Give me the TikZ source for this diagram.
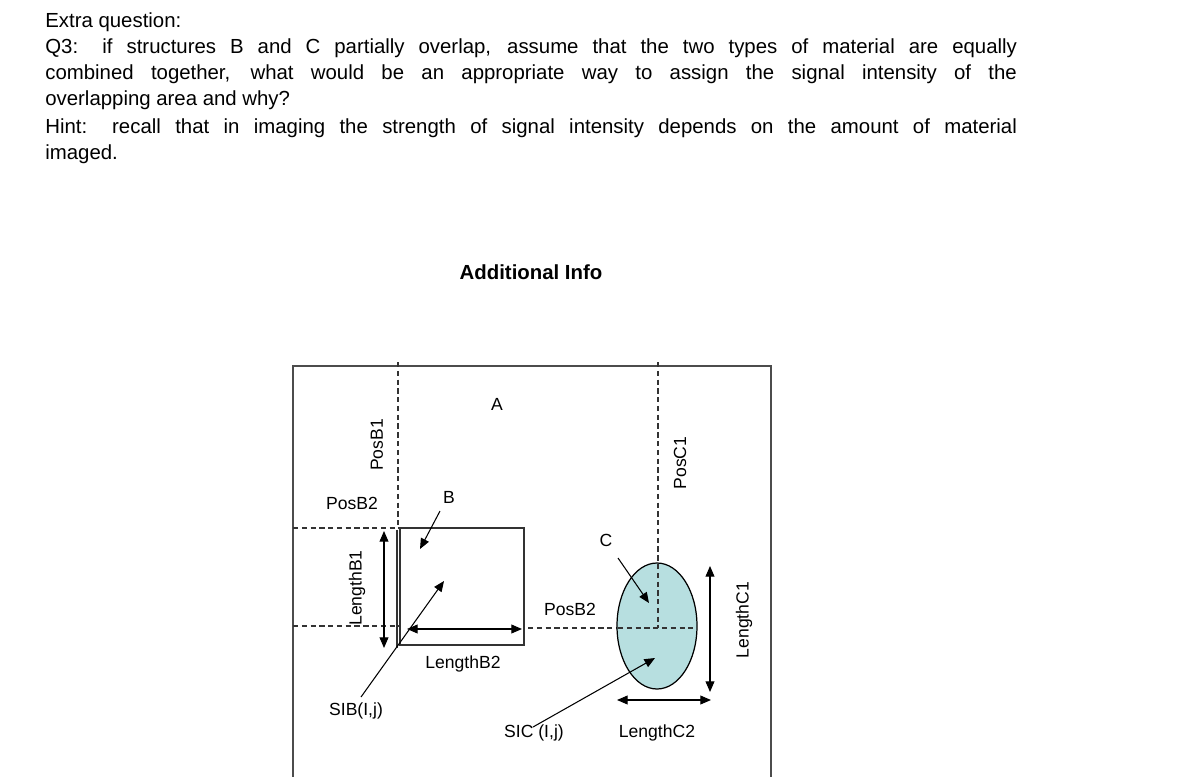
\documentclass[tikz,border=0pt]{standalone}
\usepackage{fontspec}
\setmainfont{Liberation Sans}
\usetikzlibrary{arrows.meta,shapes.geometric}
\definecolor{teal1}{HTML}{B7DFE0}
\begin{document}
\begin{tikzpicture}[x=0.02cm,y=-0.02cm,
  lbl/.style={font=\fontsize{10}{12}\selectfont,inner sep=0pt},
  dsh/.style={dashed,dash pattern=on 3pt off 2pt,line width=0.6pt,black!80},
  dim/.style={{Triangle[length=6pt,width=5pt]}-{Triangle[length=6pt,width=5pt]},line width=0.6pt},
  ptr/.style={-{Triangle[length=6pt,width=5pt]},line width=0.6pt},
  tl/.style={anchor=west,inner sep=0pt,font=\fontsize{11.6}{14}\selectfont}]
\useasboundingbox (0,0) rectangle (1180,777);
% text
\node[tl] (t1) at (45,22) {Extra question:};
\node[tl] (t2) at (45,48) {\makebox[553pt][s]{Q3: if structures B and C partially overlap, assume that the two types of material are equally}};
\node[tl] (t3) at (45,74) {\makebox[553pt][s]{combined together, what would be an appropriate way to assign the signal intensity of the}};
\node[tl] (t4) at (45,100) {overlapping area and why?};
\node[tl] (t5) at (45,128) {\makebox[553pt][s]{Hint: recall that in imaging the strength of signal intensity depends on the amount of material}};
\node[tl] (t6) at (45,154) {imaged.};
\node[font=\fontsize{11.6}{14}\selectfont\bfseries] (title) at (531,272) {Additional Info};
% frame
\draw[line width=0.8pt,black!70] (293,790) -- (293,366) -- (771,366) -- (771,790);
% dashed guides
\draw[dsh] (398,362) -- (398,528);
\draw[dsh] (293,528) -- (400,528);
\draw[dsh] (293,626) -- (400,626);
\draw[dsh] (528,628) -- (693,628);
\draw[dsh] (658,362) -- (658,628);
% B box
\draw[line width=0.7pt,black!80] (400,528) rectangle (524,645);
\draw[line width=0.6pt,black!80] (397,530) -- (397,648);
% C ellipse
\node[draw,fill=teal1,ellipse,minimum width=80*0.02cm,minimum height=126*0.02cm,inner sep=0pt,line width=0.7pt] (C) at (657,626) {};
\draw[dsh] (618,628) -- (693,628);
\draw[dsh] (658,564) -- (658,628);
% labels
\node[lbl] (A) at (497,404) {A};
\node[lbl] (Bl) at (449,497) {B};
\node[lbl] (Cl) at (606,540) {C};
\node[lbl,rotate=90] (pb1) at (377,445) {PosB1};
\node[lbl] (pb2) at (352,503) {PosB2};
\node[lbl,rotate=90] (lb1) at (357,588) {LengthB1};
\node[lbl] (lb2) at (463,664) {LengthB2};
\node[lbl] (sib) at (356,711) {SIB(I,j)};
\node[lbl] (pb2b) at (570,609) {PosB2};
\node[lbl,rotate=90] (pc1) at (680,463) {PosC1};
\node[lbl,rotate=90] (lc1) at (744,620) {LengthC1};
\node[lbl] (lc2) at (657,733) {LengthC2};
\node[lbl] (sic) at (534,733) {SIC (I,j)};
% coordinates
\coordinate (b1) at (384,531); \coordinate (b2) at (384,648);
\coordinate (h1) at (407,629); \coordinate (h2) at (522,629);
\coordinate (c1) at (710,566); \coordinate (c2) at (710,692);
\coordinate (d1) at (617,700); \coordinate (d2) at (711,700);
\coordinate (bt) at (420,549); \coordinate (st) at (444,581);
\coordinate (ct) at (649,603); \coordinate (sct) at (655,658);
\coordinate (ss) at (361,697); \coordinate (scs) at (533,727);
\coordinate (bs) at (440,511); \coordinate (cs) at (618,558);
% arrows
\draw[dim] (b1) -- (b2);
\draw[dim] (h1) -- (h2);
\draw[dim] (c1) -- (c2);
\draw[dim] (d1) -- (d2);
\draw[ptr] (bs) -- (bt);
\draw[ptr] (ss) -- (st);
\draw[ptr] (cs) -- (ct);
\draw[ptr] (scs) -- (sct);
\end{tikzpicture}
\end{document}
